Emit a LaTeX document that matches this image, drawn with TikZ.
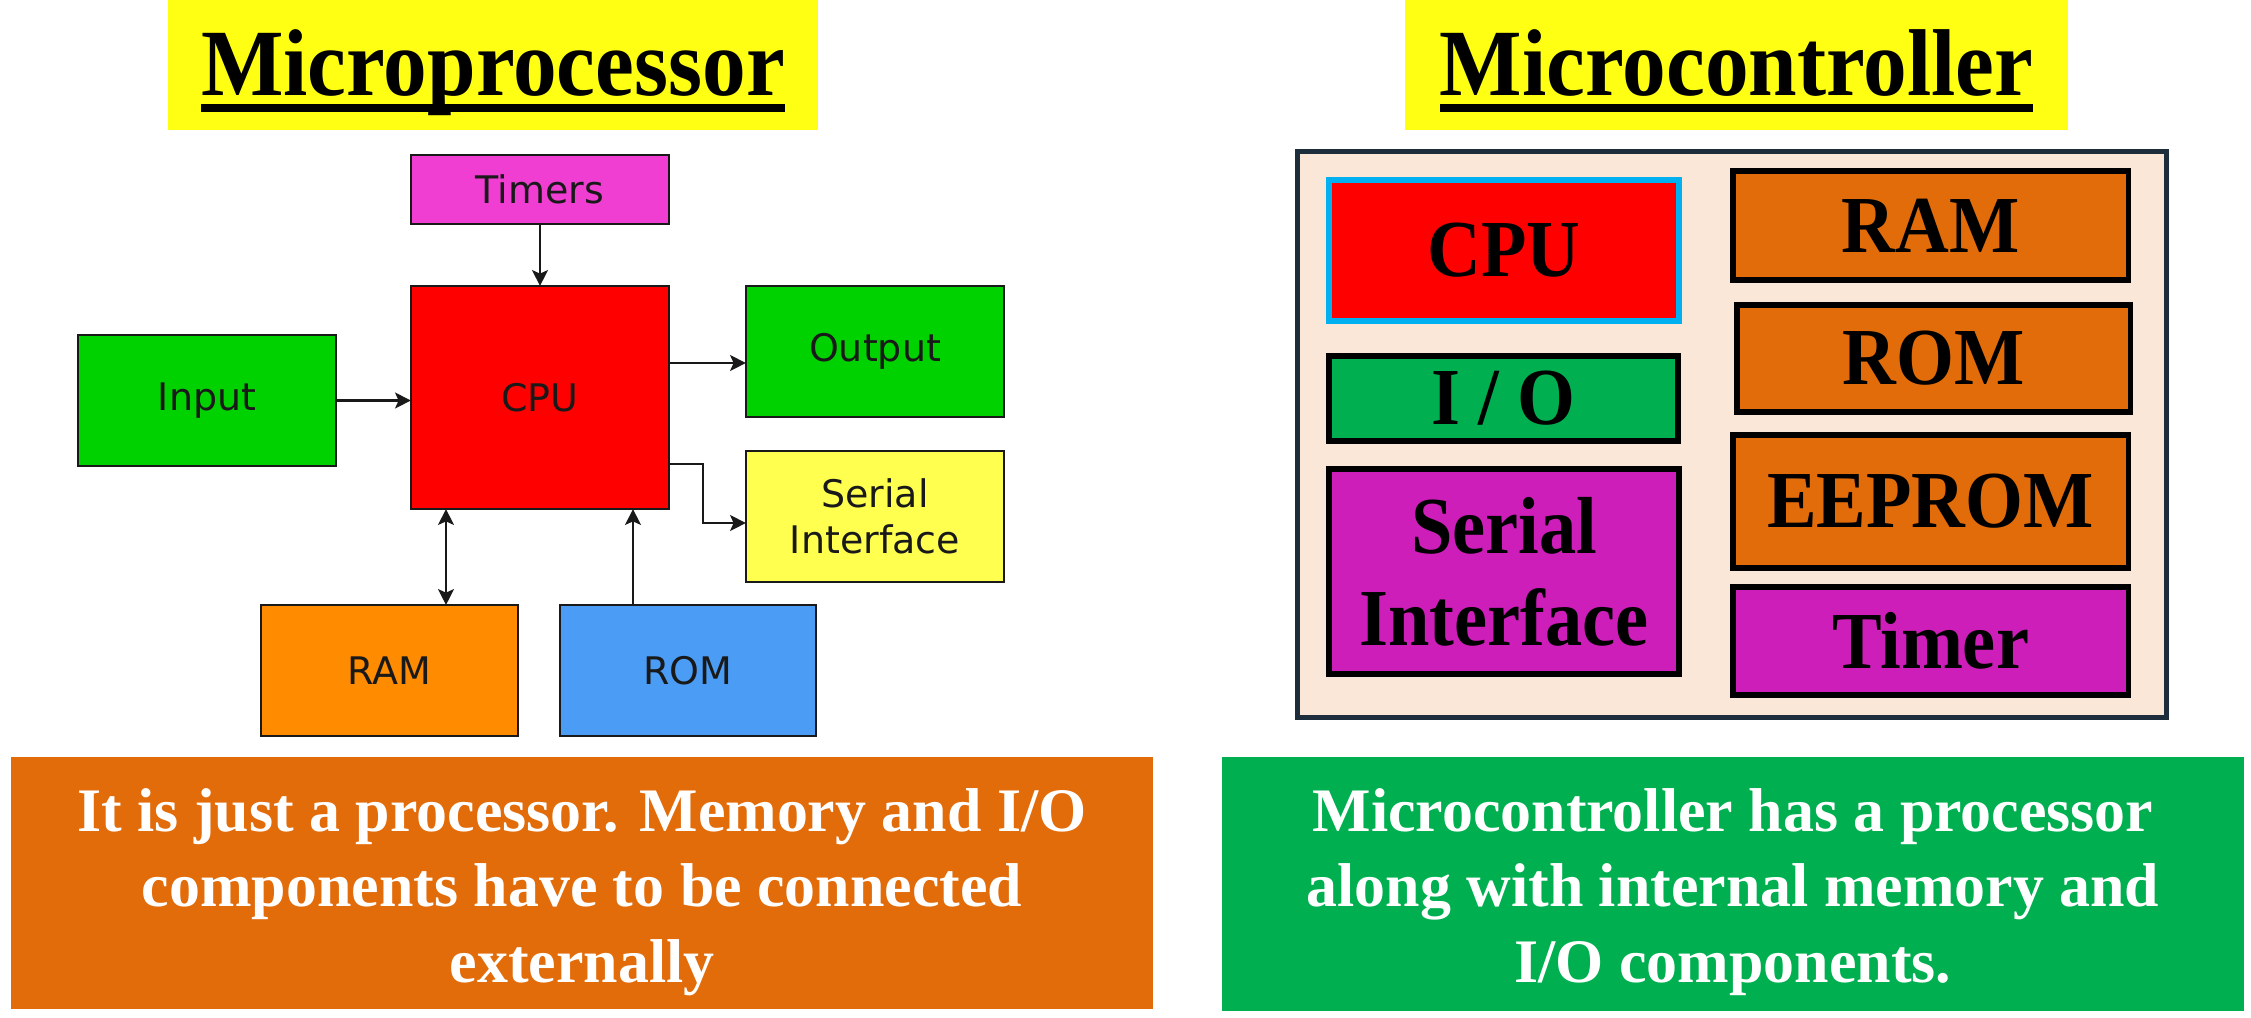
\documentclass[tikz,border=0pt]{standalone}
\usepackage{fontspec}
\setmainfont{Liberation Serif}
\newfontfamily\cond[FakeStretch=0.92]{Liberation Serif}
\newfontfamily\dejavu{DejaVu Sans}
\usetikzlibrary{arrows.meta,calc}
\definecolor{ttlyellow}{RGB}{255,255,20}
\definecolor{tmrpink}{RGB}{240,62,210}
\definecolor{brightgreen}{RGB}{0,210,0}
\definecolor{serialyellow}{RGB}{255,255,80}
\definecolor{ramorange}{RGB}{255,140,0}
\definecolor{romblue}{RGB}{74,156,245}
\definecolor{darkorange}{RGB}{226,107,10}
\definecolor{officegreen}{RGB}{0,176,80}
\definecolor{beige}{RGB}{251,231,216}
\definecolor{navy}{RGB}{30,45,60}
\definecolor{cyanb}{RGB}{0,176,240}
\definecolor{mag}{RGB}{205,30,185}
\definecolor{ink}{RGB}{25,25,25}
\tikzset{
  lbox/.style={draw=ink, line width=0.8pt, inner sep=0pt, outer sep=0pt,
    font=\dejavu\fontsize{10.8}{13}\selectfont, text=ink},
  rbox/.style={draw=black, line width=1.5pt, inner sep=0pt, outer sep=0pt,
    font=\cond\bfseries\fontsize{23}{26.2}\selectfont, align=center},
  plain/.style={inner sep=0pt, outer sep=0pt},
  arr/.style={draw=ink, line width=0.6pt, -{Stealth[length=4.5pt,width=4.5pt,inset=1pt]}},
  arrb/.style={draw=ink, line width=0.6pt, {Stealth[length=4.5pt,width=4.5pt,inset=1pt]}-{Stealth[length=4.5pt,width=4.5pt,inset=1pt]}},
  ttl/.style={inner sep=0pt, outer sep=0pt, anchor=base, font=\cond\bfseries\fontsize{27}{30}\selectfont},
  btext/.style={inner sep=0pt, outer sep=0pt, align=center, text=white,
    font=\bfseries\fontsize{17.6}{21.4}\selectfont}
}
\begin{document}
\begin{tikzpicture}[x=0.01cm,y=-0.01cm]
\useasboundingbox (0,0) rectangle (2251,1018);
\fill[white] (0,0) rectangle (2251,1018);

% ---------- Titles ----------
\node[plain, fill=ttlyellow, minimum width=6.50cm, minimum height=1.30cm] (y1) at (493,65) {};
\node[ttl] (t1) at (493,95) {Microprocessor};
\draw[line width=2pt] ($(t1.base west)+(0,13)$) -- ($(t1.base east)+(0,13)$);

\node[plain, fill=ttlyellow, minimum width=6.63cm, minimum height=1.30cm] (y2) at (1736.5,65) {};
\node[ttl] (t2) at (1736.5,95) {Microcontroller};
\draw[line width=2pt] ($(t2.base west)+(0,13)$) -- ($(t2.base east)+(0,13)$);

% ---------- Left block diagram ----------
\node[lbox, fill=tmrpink, minimum width=2.58cm, minimum height=0.69cm] (timers) at (540,189.5) {Timers};
\node[lbox, fill=red, minimum width=2.58cm, minimum height=2.23cm] (cpu) at (540,397.5) {CPU};
\node[lbox, fill=brightgreen, minimum width=2.58cm, minimum height=1.31cm] (input) at (207,400.5) {Input};
\node[lbox, fill=brightgreen, minimum width=2.58cm, minimum height=1.31cm] (output) at (875,351.5) {Output};
\node[lbox, fill=serialyellow, minimum width=2.58cm, minimum height=1.31cm, align=center] (serial) at (875,516.5) {Serial\\Interface};
\node[lbox, fill=ramorange, minimum width=2.57cm, minimum height=1.31cm] (ram) at (389.5,670.5) {RAM};
\node[lbox, fill=romblue, minimum width=2.56cm, minimum height=1.31cm] (rom) at (688,670.5) {ROM};

\coordinate (o1) at (0,363);
\coordinate (s1) at (703,464);
\coordinate (s2) at (703,523);
\coordinate (r1) at (446,0);
\coordinate (r2) at (633,0);

\draw[arr] (timers.south) -- (cpu.north);
\draw[arr] (input.east) -- (cpu.west |- input.east);
\draw[arr] (cpu.east |- o1) -- (output.west |- o1);
\draw[arr] (cpu.east |- s1) -- (s1) -- (s2) -- (serial.west |- s2);
\draw[arrb] (ram.north -| r1) -- (cpu.south -| r1);
\draw[arr] (rom.north -| r2) -- (cpu.south -| r2);

% ---------- Right microcontroller ----------
\node[plain, draw=navy, line width=1.5pt, fill=beige, minimum width=8.68cm, minimum height=5.65cm] (mcu) at (1732,434.5) {};
\node[rbox, draw=cyanb, fill=red, minimum width=3.50cm, minimum height=1.41cm] (mcpu) at (1504,250.5) {CPU};
\node[rbox, fill=officegreen, minimum width=3.49cm, minimum height=0.85cm] (mio) at (1503.5,398.5) {I / O};
\node[rbox, fill=mag, minimum width=3.50cm, minimum height=2.05cm] (mser) at (1504,571.5) {Serial\\Interface};
\node[rbox, fill=darkorange, minimum width=3.95cm, minimum height=1.09cm] (mram) at (1930.5,225.5) {RAM};
\node[rbox, fill=darkorange, minimum width=3.93cm, minimum height=1.07cm] (mrom) at (1933.5,358.5) {ROM};
\node[rbox, fill=darkorange, minimum width=3.95cm, minimum height=1.33cm] (meep) at (1930.5,501.5) {EEPROM};
\node[rbox, fill=mag, minimum width=3.95cm, minimum height=1.08cm] (mtmr) at (1930.5,641) {Timer};

% ---------- Bottom captions ----------
\node[plain, fill=darkorange, minimum width=11.42cm, minimum height=2.52cm] (cap1) at (582,883) {};
\node[btext] (c1) at (582,892) {It is just a processor. Memory and I/O\\components have to be connected\\externally};
\node[plain, fill=officegreen, minimum width=10.22cm, minimum height=2.54cm] (cap2) at (1733,884) {};
\node[btext] (c2) at (1733,892) {Microcontroller has a processor\\along with internal memory and\\I/O components.};
\end{tikzpicture}
\end{document}
